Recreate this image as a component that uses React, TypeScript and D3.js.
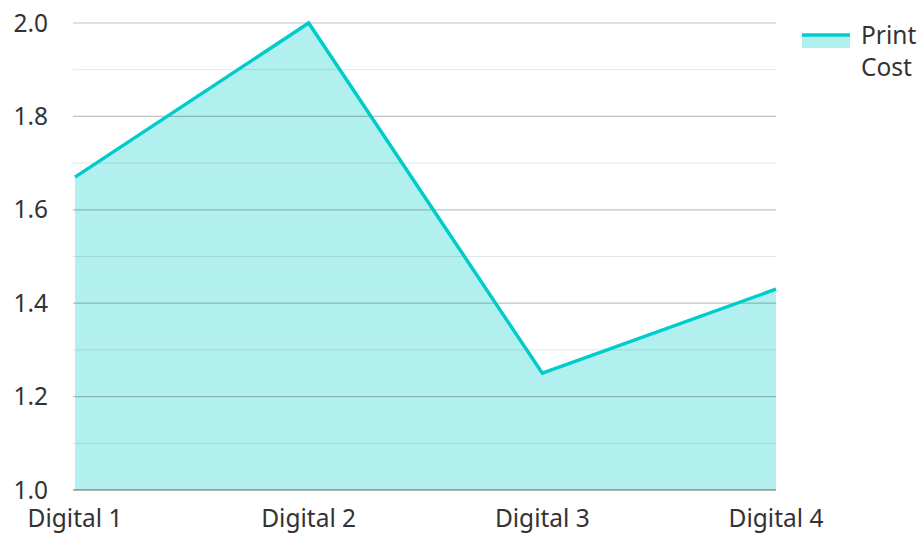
import React, { useEffect, useRef } from "react";
import * as d3 from "d3";

const categories = ["Digital 1", "Digital 2", "Digital 3", "Digital 4"];
const printCost = [1.67, 2.0, 1.25, 1.43];
const majorTicks = [1.0, 1.2, 1.4, 1.6, 1.8, 2.0];
const minorTicks = [1.1, 1.3, 1.5, 1.7, 1.9];
const seriesName = ["Print", "Cost"];

const width = 918;
const height = 533;
const margin = { top: 23, right: 142, bottom: 43, left: 75 };
const lineColor = "#00cccc";
const fontFamily = "'Noto Sans', sans-serif";
const fontSize = 24.5;

export default function App() {
  const ref = useRef<SVGSVGElement>(null);

  useEffect(() => {
    const svg = d3.select(ref.current);
    svg.selectAll("*").remove();

    const x = d3.scalePoint<string>()
      .domain(categories)
      .range([margin.left, width - margin.right]);
    const y = d3.scaleLinear()
      .domain([1.0, 2.0])
      .range([height - margin.bottom, margin.top]);

    const data = categories.map((c, i) => ({ c, v: printCost[i] }));

    // area
    const area = d3.area<any>()
      .x(d => x(d.c)!)
      .y0(y(1.0))
      .y1(d => y(d.v));
    svg.append("path")
      .attr("d", area(data))
      .attr("fill", lineColor)
      .attr("fill-opacity", 0.3);

    // grid on top of the area
    svg.append("g").selectAll("line")
      .data(minorTicks)
      .enter().append("line")
      .attr("x1", margin.left - 2)
      .attr("x2", width - margin.right)
      .attr("y1", d => y(d))
      .attr("y2", d => y(d))
      .attr("stroke", "#000")
      .attr("stroke-opacity", 0.1)
      .attr("stroke-width", 1);

    svg.append("g").selectAll("line")
      .data(majorTicks)
      .enter().append("line")
      .attr("x1", margin.left - 2)
      .attr("x2", width - margin.right)
      .attr("y1", d => y(d))
      .attr("y2", d => y(d))
      .attr("stroke", "#000")
      .attr("stroke-opacity", d => d === 1.0 ? 0.3 : 0.24)
      .attr("stroke-width", d => d === 1.0 ? 2 : 1.2);

    // line
    const line = d3.line<any>()
      .x(d => x(d.c)!)
      .y(d => y(d.v));
    svg.append("path")
      .attr("d", line(data))
      .attr("fill", "none")
      .attr("stroke", lineColor)
      .attr("stroke-width", 3.5);

    // y labels
    svg.append("g").selectAll("text")
      .data(majorTicks)
      .enter().append("text")
      .attr("x", 48)
      .attr("y", d => y(d))
      .attr("dy", "0.35em")
      .attr("text-anchor", "end")
      .attr("font-family", fontFamily)
      .attr("font-size", fontSize)
      .attr("fill", "#333")
      .text(d => d3.format(".1f")(d));

    // x labels
    svg.append("g").selectAll("text")
      .data(categories)
      .enter().append("text")
      .attr("x", d => x(d)!)
      .attr("y", 527)
      .attr("text-anchor", "middle")
      .attr("font-family", fontFamily)
      .attr("font-size", fontSize)
      .attr("fill", "#333")
      .text(d => d);

    // legend
    const lg = svg.append("g");
    lg.append("rect")
      .attr("x", 802).attr("y", 35)
      .attr("width", 48).attr("height", 13)
      .attr("fill", lineColor).attr("fill-opacity", 0.3);
    lg.append("line")
      .attr("x1", 802).attr("x2", 850)
      .attr("y1", 35).attr("y2", 35)
      .attr("stroke", lineColor).attr("stroke-width", 3.5);
    lg.selectAll("text")
      .data(seriesName)
      .enter().append("text")
      .attr("x", 861)
      .attr("y", (d, i) => 44 + i * 32)
      .attr("font-family", fontFamily)
      .attr("font-size", fontSize)
      .attr("fill", "#333")
      .text(d => d);
  }, []);

  return (
    <svg ref={ref} width={width} height={height}
      style={{ position: "absolute", left: 0, top: 0 }} />
  );
}
